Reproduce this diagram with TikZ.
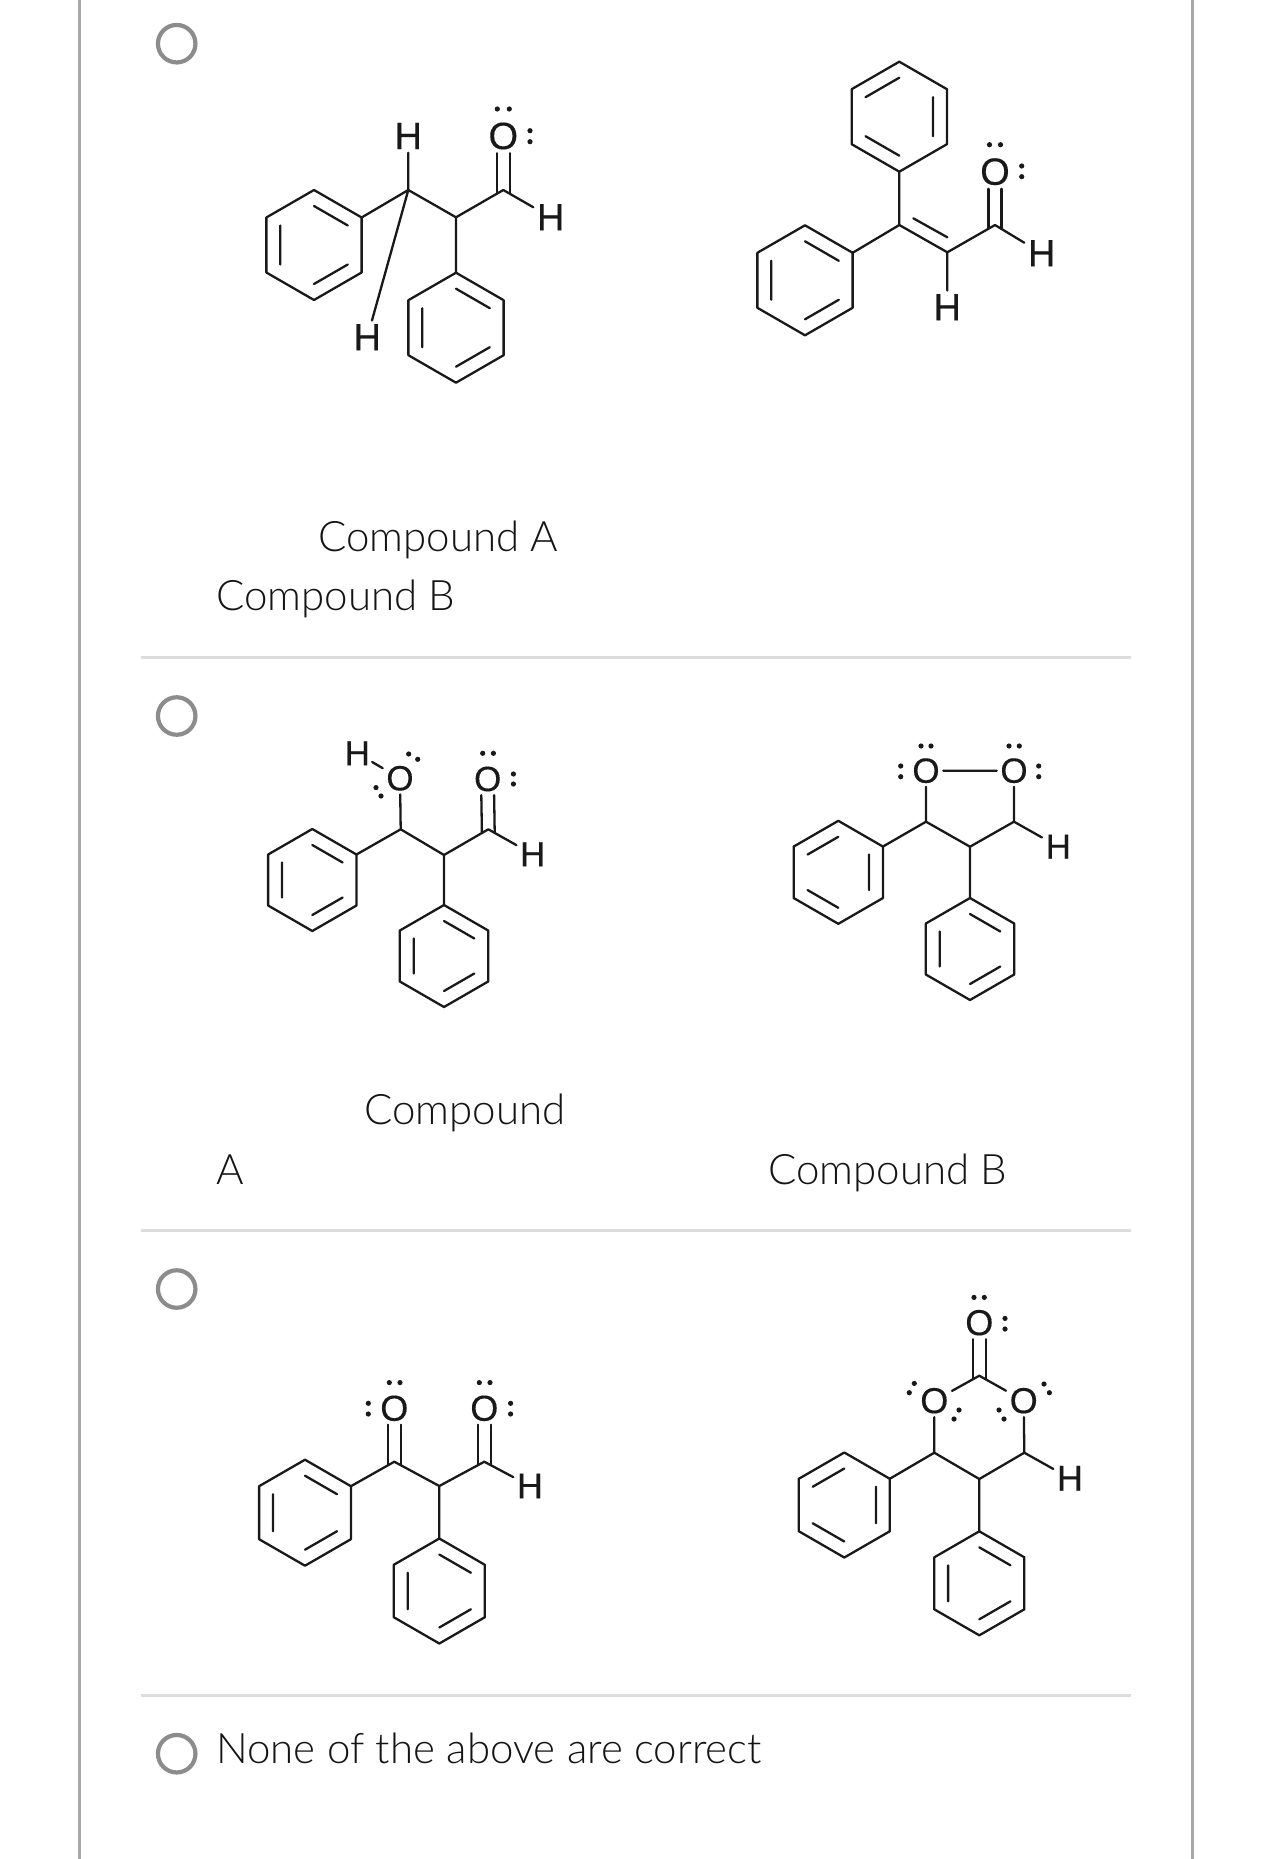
\documentclass[tikz,border=0pt]{standalone}
\usepackage{fontspec}
\setmainfont{Lato Light}
\newfontfamily\atomfont[FakeBold=0.3]{Liberation Sans}
\usetikzlibrary{calc}
\definecolor{frameC}{RGB}{168,168,168}
\definecolor{ruleC}{RGB}{220,220,220}
\definecolor{radioC}{RGB}{140,140,140}
\definecolor{textC}{RGB}{20,20,20}
\tikzset{
  bond/.style={line width=2.3pt,line cap=round,line join=round,black!90},
  atom/.style={inner sep=3.5pt,font=\atomfont\fontsize{#1}{#1}\selectfont,text=black!90},
  atom/.default=37,
  radio/.style={draw=radioC,line width=4.2pt,circle,minimum size=37.5pt,inner sep=0pt,fill=white},
  answer/.style={anchor=base west,inner sep=0pt,text=textC,font=\fontsize{42}{48}\selectfont},
  rulec/.style={draw=ruleC,line width=3pt},
  framec/.style={draw=frameC,line width=2.9pt}
}
% \ringA / \ringB {name}{cx}{cy}{R}: benzene, inner bonds differ
\newcommand{\ringbase}[4]{%
  \foreach \k in {1,...,6}{\coordinate (#1\k) at ({#2+#4*cos(30+60*(\k-1))},{#3-#4*sin(30+60*(\k-1))});
    \coordinate (#1i\k) at ({#2+(#4-16)*cos(30+60*(\k-1))},{#3-(#4-16)*sin(30+60*(\k-1))});}
  \draw[bond] (#11)--(#12)--(#13)--(#14)--(#15)--(#16)--cycle;}
\newcommand{\ringA}[4]{\ringbase{#1}{#2}{#3}{#4}%
  \draw[bond] (#1i1)--(#1i2) (#1i3)--(#1i4) (#1i5)--(#1i6);}
\newcommand{\ringB}[4]{\ringbase{#1}{#2}{#3}{#4}%
  \draw[bond] (#1i2)--(#1i3) (#1i4)--(#1i5) (#1i6)--(#1i1);}
% double bond from carbon #1 to oxygen #2
\newcommand{\dbl}[2]{\draw[bond] ([xshift=-6.4pt,yshift=-3pt]#1)--([xshift=-6.4pt]#2.south) ([xshift=6.4pt,yshift=-3pt]#1)--([xshift=6.4pt]#2.south);}
% lone pair: atom, dx1, dy1, dx2, dy2
\newcommand{\lp}[5]{\fill[black!90] ($(#1)+(#2,#3)$) circle (2.6pt) ($(#1)+(#4,#5)$) circle (2.6pt);}
\begin{document}
\begin{tikzpicture}[x=1pt,y=-1pt]
\useasboundingbox (0,0) rectangle (1283,1859);
\fill[white] (0,0) rectangle (1283,1859);
% frame and rules
\coordinate (fl1) at (79.4,0); \coordinate (fl2) at (79.4,1859);
\coordinate (fr1) at (1192.5,0); \coordinate (fr2) at (1192.5,1859);
\draw[framec] (fl1)--(fl2) (fr1)--(fr2);
\coordinate (r1a) at (141,657.5); \coordinate (r1b) at (1131,657.5);
\coordinate (r2a) at (141,1230); \coordinate (r2b) at (1131,1230);
\coordinate (r3a) at (141,1695.6); \coordinate (r3b) at (1131,1695.6);
\draw[rulec] (r1a)--(r1b) (r2a)--(r2b) (r3a)--(r3b);
% radios
\node[radio] (ra) at (176.7,43.7) {};
\node[radio] (rb) at (176.7,716) {};
\node[radio] (rc) at (176.7,1289) {};
\node[radio] (rd) at (176.7,1753.7) {};
% answers
\node[answer] (t1) at (318,551) {Compound A};
\node[answer] (t2) at (216,610) {Compound B};
\node[answer] (t3) at (364,1124) {Compound};
\node[answer] (t4) at (216,1184) {A};
\node[answer] (t5) at (768,1184) {Compound B};
\node[answer] (t6) at (216,1763) {None of the above are correct};

% ---- molecule 1
\ringA{a}{314}{245}{55}
\ringA{b}{456}{327.7}{55}
\coordinate (aC1) at (408.3,190); \coordinate (aC2) at (456,217.3); \coordinate (aC3) at (503.3,190);
\node[atom=38] (aH1) at (408.3,136) {H};
\node[atom=38] (aO) at (503.3,136) {O};
\node[atom=38] (aH2) at (550.7,217.3) {H};
\node[atom=38] (aH3) at (367.3,337.3) {H};
\draw[bond] (a1)--(aC1)--(aC2)--(aC3)--(aH2) (aC1)--(aH1) (aC1)--(aH3) (aC2)--(b2);
\dbl{aC3}{aO}
\lp{aO}{-6}{-27}{6}{-27} \lp{aO}{26.7}{-5.3}{26.7}{5.7}

% ---- molecule 2
\ringB{c}{899.3}{116.7}{55}
\ringA{d}{805}{280.3}{55}
\coordinate (cCa) at (899.3,225); \coordinate (cCb) at (947.3,252.3); \coordinate (cCc) at (995,225);
\coordinate (cD1) at (913.3,218.3); \coordinate (cD2) at (947.3,237.3);
\node[atom=38] (cO) at (995,171.7) {O};
\node[atom=38] (cH1) at (1041.7,253.3) {H};
\node[atom=38] (cH2) at (947.3,307.3) {H};
\draw[bond] (c5)--(cCa)--(cCb)--(cCc)--(cH1) (cCa)--(d1) (cCb)--(cH2) (cD1)--(cD2);
\dbl{cCc}{cO}
\lp{cO}{-5.5}{-27}{5.5}{-27} \lp{cO}{26.7}{-5.7}{26.7}{5}

% ---- molecule 3
\ringA{e}{312.3}{880}{51}
\ringA{f}{444}{956}{51}
\coordinate (eC1) at (400.7,829.3); \coordinate (eC2) at (444,855); \coordinate (eC3) at (488.3,829.3);
\node[atom=35] (eO1) at (400,778.3) {O};
\node[atom=35] (eO2) at (487.7,779) {O};
\node[atom=35] (eH1) at (532.7,854.3) {H};
\node[atom=35,inner sep=2pt] (eH2) at (357.3,753.3) {H};
\draw[bond] (e1)--(eC1)--(eC2)--(eC3)--(eH1) (eC1)--(eO1) (eC2)--(f2) (eH2)--(eO1);
\dbl{eC3}{eO2}
\lp{eO1}{8.7}{-24.3}{17.7}{-19} \lp{eO1}{-24}{9.3}{-19}{17.7}
\lp{eO2}{-5}{-25.7}{5.7}{-25.7} \lp{eO2}{25.7}{-5}{25.7}{5}

% ---- molecule 4
\ringB{g}{838.3}{872.3}{51.5}
\ringA{h}{970}{949}{51}
\coordinate (gC1) at (926,821.7); \coordinate (gC2) at (970,846.7); \coordinate (gC3) at (1014,821.7);
\node[atom=35] (gO1) at (926,770.7) {O};
\node[atom=35] (gO2) at (1014,770.7) {O};
\node[atom=35] (gH) at (1058.3,846.7) {H};
\draw[bond] (g1)--(gC1)--(gC2)--(gC3)--(gH) (gC1)--(gO1) (gC3)--(gO2) (gO1)--(gO2) (gC2)--(h2);
\lp{gO1}{-5}{-24.7}{5}{-24.7} \lp{gO1}{-25.3}{-4.7}{-25.3}{6}
\lp{gO2}{-5}{-24.7}{5.3}{-24.7} \lp{gO2}{24.7}{-4.7}{24.7}{6}

% ---- molecule 5
\ringA{m}{305}{1512.7}{53}
\ringA{n}{439.3}{1591}{52.5}
\coordinate (mC1) at (394.3,1461.7); \coordinate (mC2) at (439.3,1486); \coordinate (mC3) at (484.3,1461.7);
\node[atom=36] (mO1) at (394.3,1408.3) {O};
\node[atom=36] (mO2) at (484.3,1408.3) {O};
\node[atom=36] (mH) at (530,1486) {H};
\draw[bond] (m1)--(mC1)--(mC2)--(mC3)--(mH) (mC2)--(n2);
\dbl{mC1}{mO1} \dbl{mC3}{mO2}
\lp{mO1}{-5}{-25.7}{5.7}{-25.7} \lp{mO1}{-26}{-5}{-26}{5.7}
\lp{mO2}{-5}{-25.7}{5.7}{-25.7} \lp{mO2}{26.3}{-5}{26.3}{5.7}

% ---- molecule 6
\ringB{p}{844.3}{1505}{52.5}
\ringA{q}{979.3}{1583.3}{52}
\coordinate (pC1) at (934.3,1452.7); \coordinate (pC2) at (979.3,1479); \coordinate (pC3) at (1024.3,1452.7);
\coordinate (pCt) at (979.3,1375.7);
\node[atom=36] (pO1) at (934.3,1400.7) {O};
\node[atom=36] (pO3) at (1023.7,1400.7) {O};
\node[atom=36] (pOt) at (979.3,1322.7) {O};
\node[atom=36] (pH) at (1070,1478.3) {H};
\draw[bond] (p1)--(pC1)--(pC2)--(pC3)--(pH) (pC1)--(pO1) (pC3)--(pO3) (pC2)--(q2) (pO1)--(pCt)--(pO3);
\dbl{pCt}{pOt}
\lp{pOt}{-5.3}{-25.3}{5}{-25.3} \lp{pOt}{25.7}{-4.3}{25.7}{6.3}
\lp{pO1}{-20}{-17.3}{-25}{-8} \lp{pO1}{24.7}{9.3}{19.7}{18.3}
\lp{pO3}{20.3}{-16.7}{25.7}{-8} \lp{pO3}{-24.7}{9.3}{-19.7}{18.3}
\end{tikzpicture}
\end{document}
